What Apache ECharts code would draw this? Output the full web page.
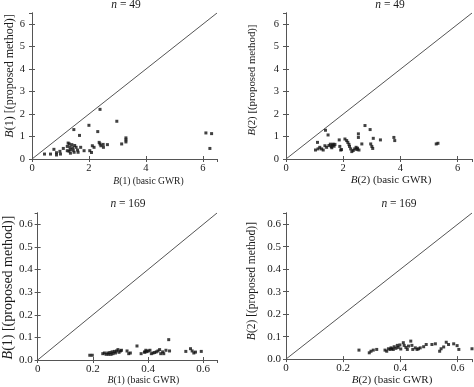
<!DOCTYPE html>
<html><head><meta charset="utf-8">
<script src="https://cdn.jsdelivr.net/npm/echarts@6/dist/echarts.min.js"></script>
<style>html,body{margin:0;padding:0;background:#fff}#c{width:474px;height:387px}</style>
</head><body><div id="c"></div>
<script>
// Panel 1: B(1), n = 49
const b1n49Basic    = [0.44,0.65,0.77,0.86,0.86,0.98,1.00,1.10,1.24,1.24,1.27,1.31,1.33,1.35,1.35,1.40,1.43,1.45,1.48,1.47,1.55,1.60,1.62,1.67,1.71,1.83,2.00,2.03,2.09,2.12,2.18,2.31,2.36,2.39,2.42,2.39,2.50,2.51,2.65,2.98,3.15,3.30,3.30,3.30,6.11,6.31,6.25,1.30,1.50];
const b1n49Proposed = [0.22,0.22,0.43,0.28,0.18,0.34,0.22,0.47,0.56,0.37,0.71,0.67,0.53,0.42,0.26,0.64,0.50,0.39,0.30,1.31,0.52,0.40,0.30,1.05,0.52,0.37,1.50,0.37,0.29,0.59,0.52,1.22,0.74,0.67,0.59,2.21,0.65,0.52,0.64,1.68,0.67,0.94,0.85,0.76,1.16,1.13,0.47,0.35,0.60];
// Panel 2: B(2), n = 49
const b2n49Basic    = [1.03,1.10,1.12,1.18,1.24,1.30,1.38,1.36,1.42,1.47,1.50,1.55,1.58,1.62,1.65,1.68,1.71,1.86,1.88,1.91,1.94,2.06,2.12,2.16,2.20,2.22,2.26,2.30,2.35,2.40,2.45,2.48,2.53,2.53,2.50,2.55,2.65,2.76,2.94,2.96,3.00,3.05,3.03,3.30,3.77,3.80,5.25,5.31,1.60];
const b2n49Proposed = [0.40,0.74,0.45,0.52,0.45,0.40,1.28,0.59,0.52,1.07,0.60,0.66,0.55,0.62,0.66,0.57,0.65,0.85,0.56,0.40,0.42,0.89,0.82,0.74,0.65,0.56,0.45,0.33,0.38,0.45,0.52,0.42,1.12,0.96,0.48,0.40,0.67,1.49,1.31,0.67,0.56,0.92,0.47,0.85,0.96,0.82,0.67,0.70,0.50];
// Panel 3: B(1), n = 169
const b1n169Basic    = [0.189,0.198,0.236,0.242,0.248,0.254,0.257,0.262,0.266,0.270,0.273,0.278,0.282,0.286,0.291,0.295,0.300,0.304,0.324,0.330,0.336,0.360,0.375,0.387,0.392,0.389,0.396,0.401,0.407,0.412,0.418,0.424,0.430,0.436,0.442,0.446,0.453,0.457,0.465,0.475,0.478,0.537,0.554,0.560,0.566,0.572,0.593];
const b1n169Proposed = [0.021,0.021,0.028,0.031,0.025,0.031,0.025,0.033,0.025,0.036,0.028,0.038,0.031,0.040,0.046,0.034,0.040,0.043,0.040,0.028,0.031,0.062,0.028,0.035,0.043,0.035,0.037,0.040,0.043,0.028,0.031,0.033,0.036,0.040,0.046,0.028,0.036,0.028,0.043,0.090,0.040,0.038,0.050,0.040,0.031,0.035,0.038];
// Panel 4: B(2), n = 169
const b2n169Basic    = [0.255,0.291,0.297,0.305,0.317,0.346,0.352,0.358,0.364,0.370,0.375,0.367,0.378,0.384,0.389,0.392,0.398,0.401,0.410,0.413,0.419,0.424,0.428,0.436,0.440,0.443,0.452,0.458,0.463,0.469,0.481,0.490,0.510,0.522,0.537,0.542,0.551,0.560,0.568,0.586,0.598,0.604,0.650];
const b2n169Proposed = [0.040,0.028,0.035,0.040,0.043,0.040,0.035,0.046,0.043,0.046,0.043,0.050,0.055,0.048,0.061,0.052,0.063,0.045,0.073,0.061,0.052,0.043,0.058,0.080,0.061,0.043,0.050,0.043,0.046,0.050,0.055,0.065,0.065,0.068,0.035,0.046,0.054,0.075,0.065,0.068,0.060,0.043,0.046];

const titles = ['{i|n} = 49', '{i|n} = 49', '{i|n} = 169', '{i|n} = 169'];
const xNames = ['{i|B}(1) (basic GWR)', '{i|B}(2) (basic GWR)', '{i|B}(1) (basic GWR)', '{i|B}(2) (basic GWR)'];
const yNames = ['{i|B}(1) [(proposed method)]', '{i|B}(2) [(proposed method)]', '{i|B}(1) [(proposed method)]', '{i|B}(2) [(proposed method)]'];

const FONT = '"Liberation Serif", "DejaVu Serif", serif';
const AXC = '#555';
const TXT = '#1a1a1a';

const panels = [
  {grid:{left:32, top:13, width:185, height:146}, max:6.5, xi:2, yi:1, xs:b1n49Basic, ys:b1n49Proposed, small:false,
   tx:126, ty:5, xFs:9.6, xGap:17, xShift:24, yFs:12, yGap:15, yShift:10},
  {grid:{left:286, top:13, width:186, height:146}, max:6.5, xi:2, yi:1, xs:b2n49Basic, ys:b2n49Proposed, small:false,
   tx:390, ty:5, xFs:11, xGap:16, xShift:12, yFs:10.8, yGap:28, yShift:6},
  {grid:{left:32, top:213, width:185, height:147}, max:0.65, xi:0.2, yi:0.1, xs:b1n169Basic, ys:b1n169Proposed, small:true,
   tx:128, ty:204, xFs:9.8, xGap:13, xShift:16, yFs:14, yGap:21, yShift:-1},
  {grid:{left:286, top:213, width:186, height:147}, max:0.65, xi:0.2, yi:0.1, xs:b2n169Basic, ys:b2n169Proposed, small:true,
   tx:399, ty:204, xFs:11, xGap:14, xShift:13, yFs:11.5, yGap:28, yShift:5}
];

const grids = [], xAxes = [], yAxes = [], series = [], graphics = [];
panels.forEach((p, i) => {
  grids.push(Object.assign({show:false}, p.grid));
  const fmtX = v => p.small ? (v === 0 ? '0' : v.toFixed(1)) : String(Math.round(v));
  const fmtY = v => p.small ? v.toFixed(1) : String(Math.round(v));
  const line = {show:true, lineStyle:{color:AXC, width:1}};
  const tick = {show:true, inside:true, length:3, lineStyle:{color:AXC, width:1}};
  xAxes.push({gridIndex:i, type:'value', position:'bottom', min:0, max:p.max, interval:p.xi,
    axisLine:line, axisTick:tick, splitLine:{show:false},
    axisLabel:{formatter:fmtX, showMaxLabel:false, margin:4, color:TXT, fontFamily:FONT, fontSize:p.small?11:10.5},
    name:xNames[i], nameLocation:'middle', nameGap:p.xGap,
    nameTextStyle:{color:TXT, fontFamily:FONT, fontSize:p.xFs, padding:[0,0,0,2*p.xShift],
      rich:{i:{fontStyle:'italic', fontFamily:FONT, fontSize:p.xFs, color:TXT}}}});
  xAxes.push({gridIndex:i, type:'value', position:'top', min:0, max:p.max, interval:p.xi,
    axisLine:line, axisTick:tick, axisLabel:{show:false}, splitLine:{show:false}});
  yAxes.push({gridIndex:i, type:'value', position:'left', min:0, max:p.max, interval:p.yi,
    axisLine:line, axisTick:tick, splitLine:{show:false},
    axisLabel:{formatter:fmtY, showMaxLabel:false, margin:p.small?5:7, color:TXT, fontFamily:FONT, fontSize:p.small?11:10.5},
    name:yNames[i], nameLocation:'middle', nameGap:p.yGap,
    nameTextStyle:{color:TXT, fontFamily:FONT, fontSize:p.yFs, padding:[0,0,0,2*p.yShift],
      rich:{i:{fontStyle:'italic', fontFamily:FONT, fontSize:p.yFs, color:TXT}}}});
  yAxes.push({gridIndex:i, type:'value', position:'right', min:0, max:p.max, interval:p.yi,
    axisLine:line, axisTick:tick, axisLabel:{show:false}, splitLine:{show:false}});
  series.push({type:'line', xAxisIndex:2*i, yAxisIndex:2*i, data:[[0,0],[p.max,p.max]],
    symbol:'none', silent:true, lineStyle:{color:'#555', width:1}, z:1});
  series.push({type:'scatter', xAxisIndex:2*i, yAxisIndex:2*i,
    data:p.xs.map((x, k) => [x, p.ys[k]]), symbol:'rect', symbolSize:3,
    itemStyle:{color:'#111'}, z:3});
  graphics.push({type:'text', x:p.tx, y:p.ty, style:{text:titles[i], fill:TXT,
    font:'11.5px ' + FONT, textAlign:'center', textVerticalAlign:'middle',
    rich:{i:{fontStyle:'italic', fontFamily:FONT, fontSize:11.5, fill:TXT}}}});
});

const chart = echarts.init(document.getElementById('c'), null, {renderer:'canvas'});
chart.setOption({animation:false, backgroundColor:'#fff', grid:grids, xAxis:xAxes, yAxis:yAxes, series:series, graphic:graphics});
</script></body></html>
